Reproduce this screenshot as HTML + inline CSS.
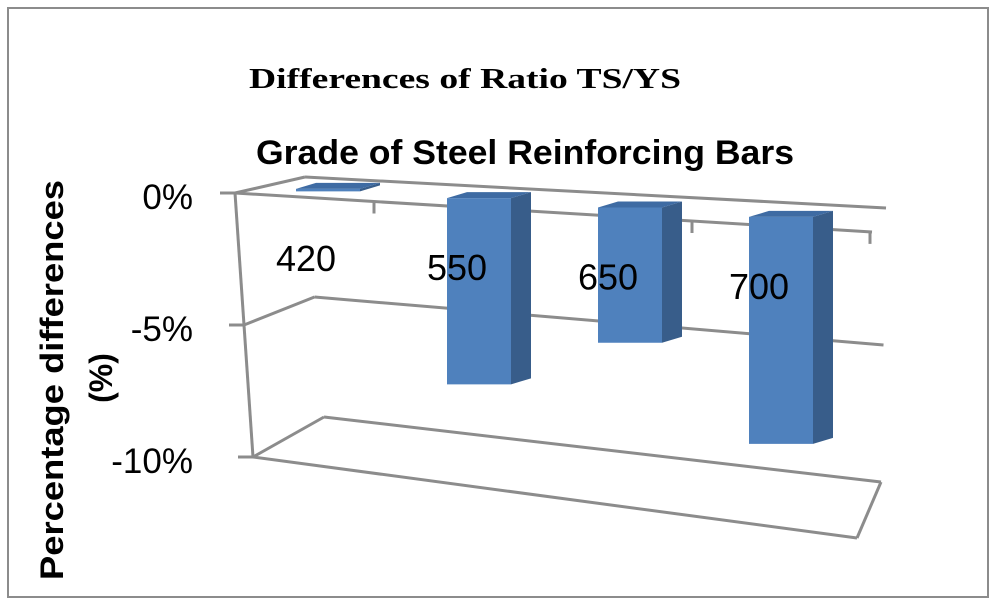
<!DOCTYPE html>
<html><head><meta charset="utf-8"><style>
html,body{margin:0;padding:0;background:#fff;width:997px;height:605px;overflow:hidden}
svg{display:block}
text{font-family:"Liberation Sans Narrow","Liberation Sans",sans-serif}
</style></head><body>
<svg id="chart" width="997" height="605" viewBox="0 0 997 605" xmlns="http://www.w3.org/2000/svg">
<rect x="8" y="8" width="980" height="589" fill="#fff" stroke="#8c8c8c" stroke-width="2"/>
<text x="465" y="88" text-anchor="middle" style="font-family:'Liberation Serif',serif" font-weight="bold" font-size="29" textLength="432" lengthAdjust="spacingAndGlyphs">Differences of Ratio TS/YS</text>
<text x="525" y="164" text-anchor="middle" font-weight="bold" font-size="34" textLength="538" lengthAdjust="spacingAndGlyphs">Grade of Steel Reinforcing Bars</text>
<g>
<text x="0" y="0" transform="translate(63,380) rotate(-90)" text-anchor="middle" font-weight="bold" font-size="32" style="font-family:'Liberation Sans',sans-serif" textLength="400" lengthAdjust="spacingAndGlyphs">Percentage differences</text>
<text x="0" y="0" transform="translate(112,378) rotate(-90)" text-anchor="middle" font-weight="bold" font-size="32" style="font-family:'Liberation Sans',sans-serif">(%)</text>
</g>
<g id="grid" fill="none" stroke="#8c8c8c" stroke-width="3"></g>
<g id="bars"></g>
<g id="labels"></g>
</svg>
<script>
const categories = ["420", "550", "650", "700"];
const values = [-0.1, -7.3, -5.3, -8.9];
const tickValues = [0, -5, -10];
const tickLabels = ["0%", "-5%", "-10%"];

const NS = "http://www.w3.org/2000/svg";
const grid = document.getElementById("grid");
const bars = document.getElementById("bars");
const labels = document.getElementById("labels");
function frac(v){ return v / -10; }
function yFront(v){ return 193 + frac(v) * (457-193); }
function xFront(v){ return 235 + frac(v) * 18; }
function yBackL(v){ return 177 + frac(v)*(417-177); }
function xBackL(v){ return 305 + frac(v)*19; }
function yBackR(v){ return 208 + frac(v)*(482-208); }
function xBackR(v){ return 886 - frac(v)*5; }
function line(x1,y1,x2,y2,name){
  const l=document.createElementNS(NS,"line");
  l.setAttribute("x1",x1);l.setAttribute("y1",y1);l.setAttribute("x2",x2);l.setAttribute("y2",y2);
  
  
  grid.appendChild(l);
}
tickValues.forEach((v,i)=>{
  const fx=xFront(v), fy=yFront(v);
  line(fx-15,fy,fx,fy,"y-tick");
  line(fx,fy,xBackL(v),yBackL(v),"gridline-side");
  line(xBackL(v),yBackL(v),xBackR(v),yBackR(v),"gridline-back");
  const t=document.createElementNS(NS,"text");
  t.setAttribute("x",193);t.setAttribute("y",fy+16);
  t.setAttribute("text-anchor","end");t.setAttribute("font-size","35");
  t.textContent=tickLabels[i];
  
  
  labels.appendChild(t);
});
line(xFront(0),yFront(0),xFront(-10),yFront(-10),"y-axis-line");
line(xFront(0),yFront(0),872,232,"x-axis-line");
line(xFront(-10),yFront(-10),857,538,"floor-front");
line(857,538,881,482,"floor-right");
const tickX=[374,527,692,870];
tickX.forEach(x=>{const y=193+(x-235)*(232-193)/(872-235); line(x,y,x,y+12,"x-tick");});

function barX(i){ return 296 + i*151; }
function barBase(x){ return 198 + (x-444)*0.062; }
const PX_PER_PCT = 25.5, W = 64, DX = 20, DY = -6;
function poly(pts,fill,name){
  const p=document.createElementNS(NS,"polygon");
  p.setAttribute("points",pts.map(a=>a.join(",")).join(" "));
  p.setAttribute("fill",fill);
  
  
  bars.appendChild(p);
}
values.forEach((v,i)=>{
  const x=barX(i), y0=barBase(x), y1=y0 - v*PX_PER_PCT;
  poly([[x+W,y0],[x+W+DX,y0+DY],[x+W+DX,y1+DY],[x+W,y1]],"#385d8a","bar-side-"+categories[i]);
  poly([[x,y0],[x+W,y0],[x+W+DX,y0+DY],[x+DX,y0+DY]],"#3e6ba3","bar-top-"+categories[i]);
  poly([[x,y0],[x+W,y0],[x+W,y1],[x,y1]],"#4f81bd","bar-"+categories[i]);
  const t=document.createElementNS(NS,"text");
  t.setAttribute("x",x+10);t.setAttribute("y",y0+82);
  t.setAttribute("text-anchor","middle");t.setAttribute("font-size","36");
  t.textContent=categories[i];
  
  
  labels.appendChild(t);
});
</script>
</body></html>
